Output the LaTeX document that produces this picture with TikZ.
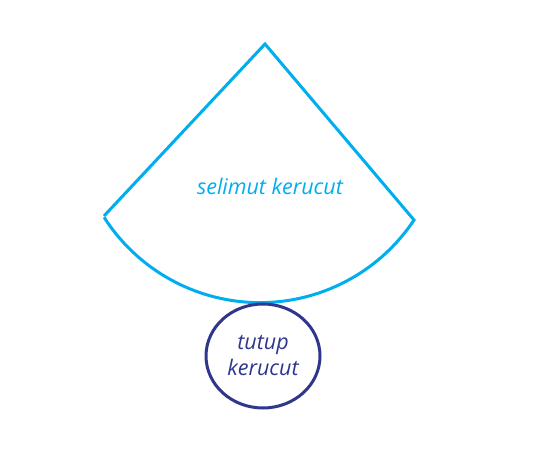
\documentclass[tikz,border=0pt]{standalone}
\usepackage{fontspec}
\setmainfont{Open Sans}
\usetikzlibrary{
positioning,%
calc,%
shapes.geometric
}
\definecolor{lightcyan}{RGB}{0,174,239}
\definecolor{darkblue}{RGB}{46,55,140}
\tikzset{
    selimut/.style={draw=lightcyan, line width=3pt},
    tutup/.style={draw=darkblue, line width=3pt, ellipse, minimum width=114pt, minimum height=104pt, inner sep=0pt, align=center},
    label/.style={font=\fontsize{21.5}{26}\selectfont\itshape}
}

\begin{document}
\begin{tikzpicture}[x=1pt, y=1pt]
            \useasboundingbox (0,0) rectangle (546,461);
            \coordinate (apex) at (265,417);
            \coordinate (lend) at (104,245);
            \coordinate (rend) at (414,241);
            \draw[selimut] (lend) -- (apex) -- (rend)
                arc[start angle=-33.6, end angle=-147.4, radius=185];
            \node[label, text=lightcyan] (sel) at (270,275) {selimut kerucut};
            \node[tutup, label, text=darkblue] (tut) at (263,105) {tutup\\kerucut};
        \end{tikzpicture}
\end{document}
